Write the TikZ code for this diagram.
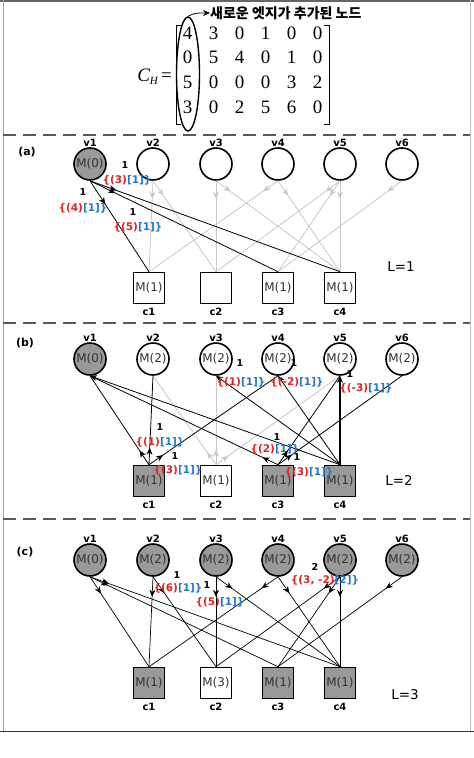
\documentclass[tikz,border=0pt]{standalone}
\usepackage{fontspec}
\setmainfont{DejaVu Sans}
\newfontfamily\krfont{Noto Sans CJK KR}
\newfontfamily\matfont{Liberation Serif}
\usepackage{tikz}
\usetikzlibrary{arrows.meta}
\usetikzlibrary{decorations.markings}
\usetikzlibrary{shapes.geometric}
\usetikzlibrary{matrix}

\definecolor{nodegray}{gray}{0.6}
\definecolor{edgegray}{gray}{0.78}
\definecolor{msgred}{RGB}{232,32,30}
\definecolor{msgblue}{RGB}{30,120,210}
\definecolor{txtgray}{gray}{0.2}

\newcommand{\msg}[2]{\textcolor{msgred}{\{(#1)}\textcolor{msgblue}{[#2]\}}}

\tikzset{
  vnode/.style={circle,draw,line width=1.6pt,minimum size=32pt,inner sep=0pt,
    font=\fontsize{12}{13}\selectfont\color{txtgray}},
  cnode/.style={rectangle,draw,line width=1.6pt,minimum size=31pt,inner sep=0pt,
    font=\fontsize{12}{13}\selectfont\color{txtgray}},
  graynode/.style={fill=nodegray},
  vlab/.style={label={[font=\fontsize{10}{12}\selectfont\bfseries,inner sep=0.5pt,label distance=0pt]above:#1}},
  clab/.style={label={[font=\fontsize{10}{12}\selectfont\bfseries,inner sep=1pt,label distance=3pt]below:#1}},
  tipat/.style={postaction={decorate},
    decoration={markings,mark=at position #1 with {\arrow{Stealth[length=7pt,width=6pt]}}}},
  wt/.style={font=\fontsize{9.5}{10}\selectfont\bfseries,inner sep=0pt},
  mlab/.style={font=\fontsize{10.5}{12}\selectfont\bfseries,inner sep=0pt},
  panel/.style={font=\fontsize{11}{12}\selectfont\bfseries,inner sep=0pt},
  level/.style={font=\fontsize{13.5}{14}\selectfont,inner sep=0pt},
  sep/.style={dash pattern=on 13pt off 7pt,line width=1.6pt,black!65},
}

\begin{document}
\begin{tikzpicture}[x=1pt,y=-1pt]
\useasboundingbox (0,0) rectangle (474,758);

% frame
\draw[line width=2pt,black!60] (0,1) -- (474,1);
\draw[line width=0.8pt,black!35] (3,0) -- (3,731);
\draw[line width=0.8pt,black!25] (470,0) -- (470,731);
\draw[line width=1pt,black!80] (0,731) -- (474,731);
\draw[sep] (3,135) -- (470,135);
\draw[sep] (3,323) -- (470,323);
\draw[sep] (3,519) -- (470,519);

% matrix C_H
\node[font=\matfont\fontsize{19}{20}\selectfont,anchor=east,inner sep=0pt] (CHlab) at (172,77)
  {\itshape C\raisebox{-0.35ex}{\fontsize{11}{12}\selectfont H}\upshape\,=};
\matrix (CH) [matrix of nodes,
  nodes={minimum width=20pt,minimum height=18pt,inner sep=0pt,font=\matfont\fontsize{19}{20}\selectfont},
  column sep=6pt,row sep=6.5pt] at (252.5,70) {
  4 & 3 & 0 & 1 & 0 & 0 \\
  0 & 5 & 4 & 0 & 1 & 0 \\
  5 & 0 & 0 & 0 & 3 & 2 \\
  3 & 0 & 2 & 5 & 6 & 0 \\
};
\draw[line width=0.8pt] (181,25) -- (176,25) -- (176,124) -- (181,124);
\draw[line width=0.8pt] (324,25) -- (329,25) -- (329,124) -- (324,124);
\node[draw,ellipse,line width=1.4pt,minimum width=23pt,minimum height=114pt,inner sep=0pt] (col) at (188,74) {};
\node[font=\krfont\fontsize{14}{16}\selectfont\bfseries,anchor=west,inner sep=0pt] (kor) at (210,13)
  {새로운 엣지가 추가된 노드};
\draw[line width=0.8pt,-{Stealth[length=7pt,width=6pt]}] (col.north) .. controls (195,13) .. (kor.west);

% (a)
\node[panel] (pa) at (27,152) {(a)};
\node[vnode,graynode,vlab=v1] (a1) at (90,164) {M(0)};
\node[vnode,vlab=v2] (a2) at (153,164) {};
\node[vnode,vlab=v3] (a3) at (216,164) {};
\node[vnode,vlab=v4] (a4) at (278,164) {};
\node[vnode,vlab=v5] (a5) at (340,164) {};
\node[vnode,vlab=v6] (a6) at (402,164) {};
\node[cnode,clab=c1] (ac1) at (149,288) {M(1)};
\node[cnode,clab=c2] (ac2) at (216,288) {};
\node[cnode,clab=c3] (ac3) at (278,288) {M(1)};
\node[cnode,clab=c4] (ac4) at (340,288) {M(1)};
\node[level] (La) at (401,267) {L=1};

\begin{scope}[every edge/.style={draw=edgegray,line width=0.8pt,tipat=18pt}]
	\path (a2.south) edge (ac1.north);
	\path (a2.south) edge (ac2.north);
	\path (a3.south) edge (ac2.north);
	\path (a3.south) edge (ac4.north);
	\path (a4.south) edge (ac1.north);
	\path (a4.south) edge (ac4.north);
	\path (a5.south) edge (ac2.north);
	\path (a5.south) edge (ac3.north);
	\path (a5.south) edge (ac4.north);
	\path (a6.south) edge (ac3.north);
\end{scope}
\begin{scope}[every edge/.style={draw=black,line width=0.8pt,tipat=28pt}]
	\path (a1.south) edge (ac1.north);
	\path (a1.south) edge (ac3.north);
	\path (a1.south) edge (ac4.north);
\end{scope}

\node[wt] (aw1) at (125,165) {1};
\node[mlab] (am1) at (127,180) {\msg{3}{1}};
\node[wt] (aw2) at (83,192) {1};
\node[mlab] (am2) at (83,208) {\msg{4}{1}};
\node[wt] (aw3) at (133,212) {1};
\node[mlab] (am3) at (138,227) {\msg{5}{1}};

% (b)
\node[panel] (pb) at (25,343) {(b)};
\node[vnode,graynode,vlab=v1] (b1) at (90,359) {M(0)};
\node[vnode,vlab=v2] (b2) at (153,359) {M(2)};
\node[vnode,vlab=v3] (b3) at (216,359) {M(2)};
\node[vnode,vlab=v4] (b4) at (278,359) {M(2)};
\node[vnode,vlab=v5] (b5) at (340,359) {M(2)};
\node[vnode,vlab=v6] (b6) at (402,359) {M(2)};
\node[cnode,graynode,clab=c1] (bc1) at (149,481) {M(1)};
\node[cnode,clab=c2] (bc2) at (216,481) {M(1)};
\node[cnode,graynode,clab=c3] (bc3) at (278,481) {M(1)};
\node[cnode,graynode,clab=c4] (bc4) at (340,481) {M(1)};
\node[level] (Lb) at (399,480) {L=2};

\begin{scope}[every edge/.style={draw=edgegray,line width=0.8pt,tipat=15pt}]
	\path (bc2.north) edge (b2.south);
	\path (bc2.north) edge (b3.south);
	\path (bc2.north) edge (b5.south);
\end{scope}
\begin{scope}[every edge/.style={draw=black,line width=0.8pt,tipat=17pt}]
	\path (bc1.north) edge (b1.south);
	\path (bc1.north) edge (b2.south);
	\path (bc1.north) edge (b4.south);
	\path (bc3.north) edge (b1.south);
	\path (bc3.north) edge (b5.south);
	\path (bc3.north) edge (b6.south);
\end{scope}
\begin{scope}[>={Stealth[length=7pt,width=6pt]},
              every edge/.style={draw=black,line width=0.8pt,->}]
	\path (bc4.north) edge (b1.south);
	\path (bc4.north) edge (b3.south);
	\path (bc4.north) edge (b4.south);
	\path (bc4.north) edge[line width=1.8pt] (b5.south);
\end{scope}

\node[wt] (bw1) at (160,427) {1};
\node[mlab] (bm1) at (160,442) {\msg{1}{1}};
\node[wt] (bw2) at (175,456) {1};
\node[mlab] (bm2) at (178,470) {\msg{3}{1}};
\node[wt] (bw3) at (240,363) {1};
\node[mlab] (bm3) at (241,382) {\msg{1}{1}};
\node[wt] (bw4) at (294,363) {1};
\node[mlab] (bm4) at (297,382) {\msg{-2}{1}};
\node[wt] (bw5) at (350,374) {1};
\node[mlab] (bm5) at (366,388) {\msg{-3}{1}};
\node[wt] (bw6) at (277,437) {1};
\node[mlab] (bm6) at (275,449) {\msg{2}{1}};
\node[wt] (bw7) at (297,457) {1};
\node[mlab] (bm7) at (309,472) {\msg{3}{1}};

% (c)
\node[panel] (pc) at (25,552) {(c)};
\node[vnode,graynode,vlab=v1] (c1) at (90,560) {M(0)};
\node[vnode,graynode,vlab=v2] (c2) at (153,560) {M(2)};
\node[vnode,graynode,vlab=v3] (c3) at (216,560) {M(2)};
\node[vnode,graynode,vlab=v4] (c4) at (278,560) {M(2)};
\node[vnode,graynode,vlab=v5] (c5) at (340,560) {M(2)};
\node[vnode,graynode,vlab=v6] (c6) at (402,560) {M(2)};
\node[cnode,graynode,clab=c1] (cc1) at (149,683) {M(1)};
\node[cnode,clab=c2] (cc2) at (216,683) {M(3)};
\node[cnode,graynode,clab=c3] (cc3) at (278,683) {M(1)};
\node[cnode,graynode,clab=c4] (cc4) at (340,683) {M(1)};
\node[level] (Lc) at (405,695) {L=3};

\begin{scope}[every edge/.style={draw=black,line width=0.7pt,tipat=20pt}]
	\path (c1.south) edge (cc1.north);
	\path (c1.south) edge (cc3.north);
	\path (c1.south) edge (cc4.north);
	\path (c2.south) edge (cc1.north);
	\path (c2.south) edge (cc2.north);
	\path (c3.south) edge (cc2.north);
	\path (c3.south) edge (cc4.north);
	\path (c4.south) edge (cc1.north);
	\path (c4.south) edge (cc4.north);
	\path (c5.south) edge (cc2.north);
	\path (c5.south) edge (cc3.north);
	\path (c5.south) edge (cc4.north);
	\path (c6.south) edge (cc3.north);
\end{scope}

\node[wt] (cw1) at (177,575) {1};
\node[mlab] (cm1) at (178,588) {\msg{6}{1}};
\node[wt] (cw2) at (207,585) {1};
\node[mlab] (cm2) at (220,602) {\msg{5}{1}};
\node[wt] (cw3) at (315,567) {2};
\node[mlab] (cm3) at (325,580) {\msg{3, -2}{2}};
\end{tikzpicture}
\end{document}
